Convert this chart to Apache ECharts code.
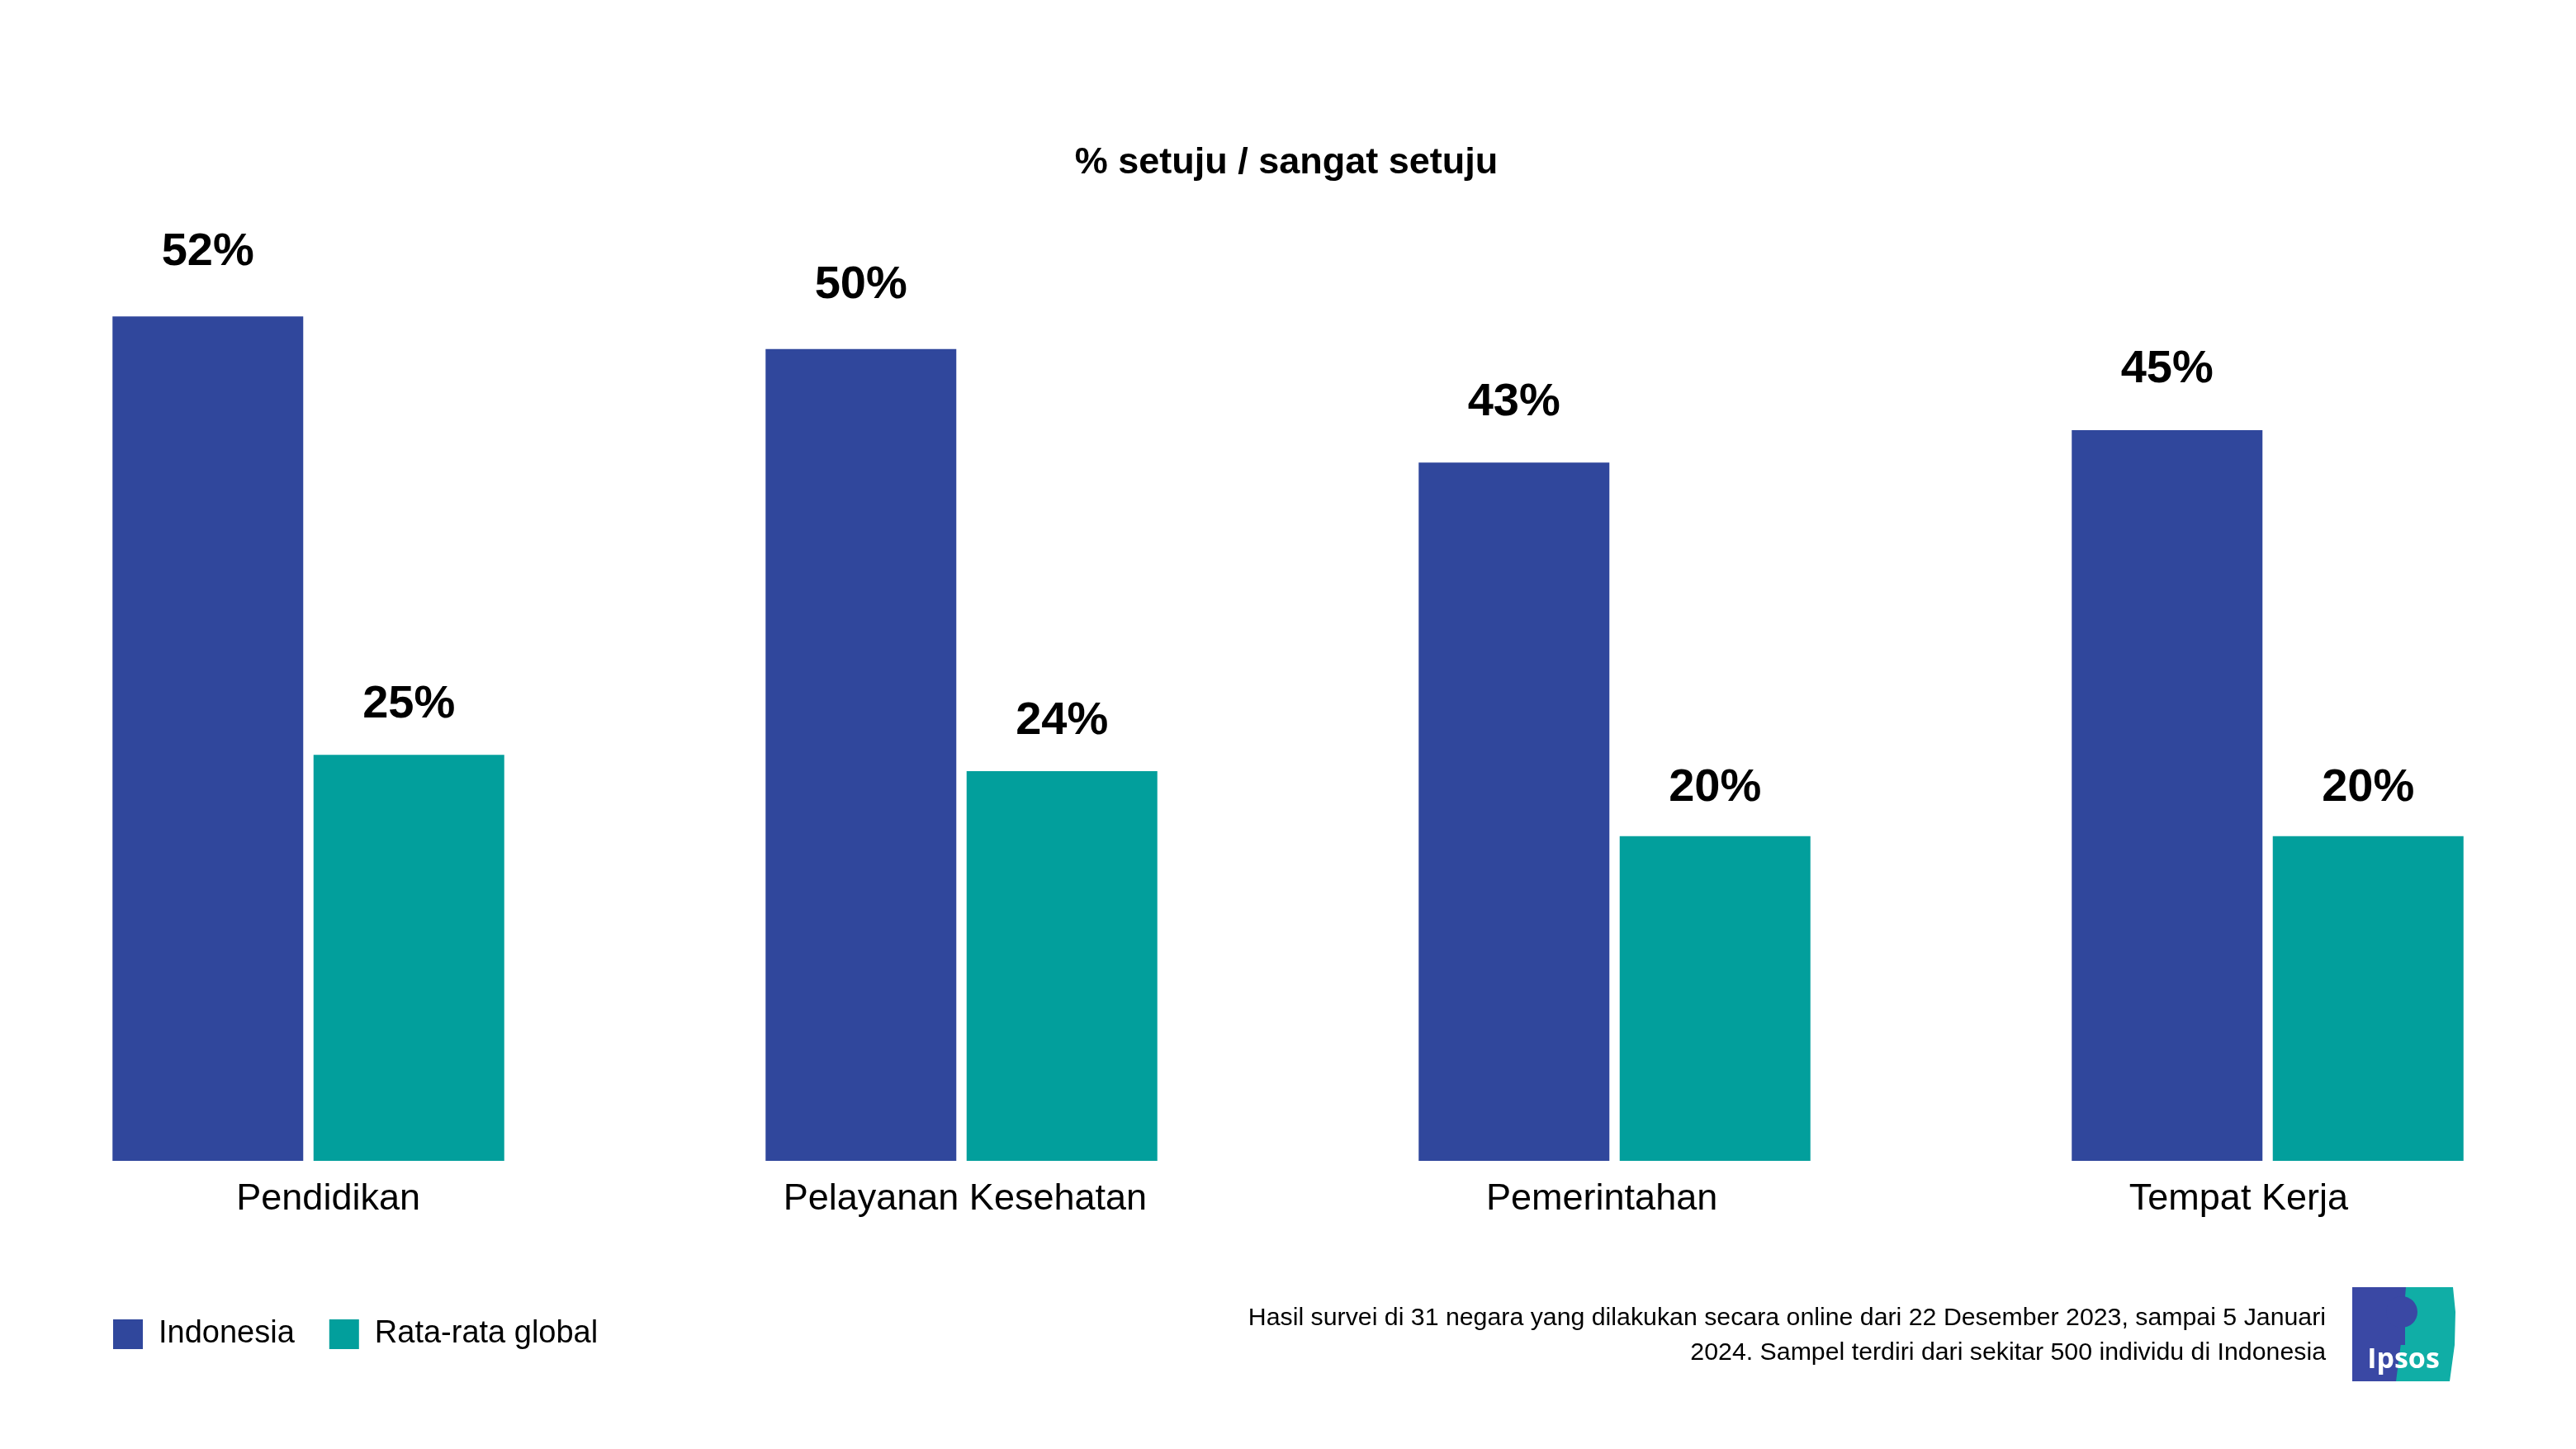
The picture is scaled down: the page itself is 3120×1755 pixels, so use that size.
<!DOCTYPE html>
<html>
<head>
<meta charset="utf-8">
<script src="https://cdn.jsdelivr.net/npm/echarts@6/dist/echarts.min.js"></script>
<style>
html,body{margin:0;padding:0;background:#fff;}
#chart{width:3120px;height:1755px;}
</style>
</head>
<body>
<div id="chart"></div>
<script>
const categories = ['Pendidikan', 'Pelayanan Kesehatan', 'Pemerintahan', 'Tempat Kerja'];
const indonesiaValues = [52, 50, 43, 45];
const globalValues = [25, 24, 20, 20];
const seriesNames = ['Indonesia', 'Rata-rata global'];
const titleText = '% setuju / sangat setuju';
const footnoteLines = [
  'Hasil survei di 31 negara yang dilakukan secara online dari 22 Desember 2023, sampai 5 Januari',
  '2024. Sampel terdiri dari sekitar 500 individu di Indonesia'
];

const BLUE = '#30479C';
const TEAL = '#029F9C';
const FONT = '"Liberation Sans", Arial, Helvetica, sans-serif';

const chart = echarts.init(document.getElementById('chart'), null, {renderer: 'canvas'});

const labelStyle = {
  show: true,
  position: 'top',
  distance: 44,
  formatter: '{c}%',
  fontFamily: FONT,
  fontWeight: 'bold',
  fontSize: 56,
  color: '#000'
};

// label gap above the bar grows slightly with bar height in the reference
function withLabelGap(values) {
  return values.map(v => ({value: v, label: {distance: 17.5 + 0.625 * v}}));
}

chart.setOption({
  backgroundColor: '#ffffff',
  animation: false,
  title: {
    text: titleText,
    left: 1553,
    top: 170,
    textAlign: 'center',
    textStyle: {fontFamily: FONT, fontWeight: 'bold', fontSize: 45, color: '#000'}
  },
  legend: {
    left: 132,
    top: 1592,
    itemWidth: 36,
    itemHeight: 36,
    itemGap: 42,
    icon: 'rect',
    data: seriesNames,
    textStyle: {fontFamily: FONT, fontSize: 38, color: '#000', padding: [0, 0, 0, 14]}
  },
  grid: [
    {left: -22, right: -22, top: 226, bottom: 349, containLabel: false, outerBoundsMode: 'none'},
    {left: 12, right: 23, top: 226, bottom: 349, containLabel: false, outerBoundsMode: 'none'}
  ],
  xAxis: [
    {
      type: 'category',
      gridIndex: 0,
      data: categories,
      axisLine: {show: false},
      axisTick: {show: false},
      axisLabel: {show: false}
    },
    {
      type: 'category',
      gridIndex: 1,
      data: categories,
      axisLine: {show: false},
      axisTick: {show: false},
      axisLabel: {fontFamily: FONT, fontSize: 45, color: '#000', margin: 24}
    }
  ],
  yAxis: [
    {type: 'value', gridIndex: 0, min: 0, max: 60, show: false, splitLine: {show: false}},
    {type: 'value', gridIndex: 1, min: 0, max: 60, show: false, splitLine: {show: false}}
  ],
  series: [
    {
      name: seriesNames[0],
      type: 'bar',
      xAxisIndex: 0,
      yAxisIndex: 0,
      data: withLabelGap(indonesiaValues),
      barWidth: 231,
      barGap: '5.4%',
      itemStyle: {color: BLUE},
      label: labelStyle
    },
    {
      name: seriesNames[1],
      type: 'bar',
      xAxisIndex: 0,
      yAxisIndex: 0,
      data: withLabelGap(globalValues),
      barWidth: 231,
      barGap: '5.4%',
      itemStyle: {color: TEAL},
      label: labelStyle
    }
  ],
  graphic: [
    {
      type: 'text',
      right: 3120 - 2817,
      top: 1582,
      style: {text: footnoteLines[0], fontFamily: FONT, fontSize: 30.3, fill: '#000'}
    },
    {
      type: 'text',
      right: 3120 - 2817,
      top: 1624,
      style: {text: footnoteLines[1], fontFamily: FONT, fontSize: 30.3, fill: '#000'}
    },
    {
      type: 'group',
      left: 2849,
      top: 1559,
      children: [
        {type: 'rect', shape: {x: 0, y: 0, width: 70, height: 114}, style: {fill: '#3A48A4'}},
        {type: 'polygon', shape: {points: [[65, 0], [122, 0], [125, 30], [124, 70], [118, 114], [53, 114], [60, 60]]}, style: {fill: '#10AEA6'}},
        {type: 'circle', shape: {cx: 60, cy: 30, r: 19}, style: {fill: '#3A48A4'}},
        {type: 'rect', shape: {x: 56, y: 45, width: 8, height: 25}, style: {fill: '#3A48A4'}},
        {type: 'text', style: {x: 62, y: 88, text: 'Ipsos', fontFamily: '"Open Sans", ' + FONT, fontWeight: 'bold', fontSize: 34, fill: '#fff', align: 'center', verticalAlign: 'middle'}}
      ]
    }
  ]
});
</script>
</body>
</html>
